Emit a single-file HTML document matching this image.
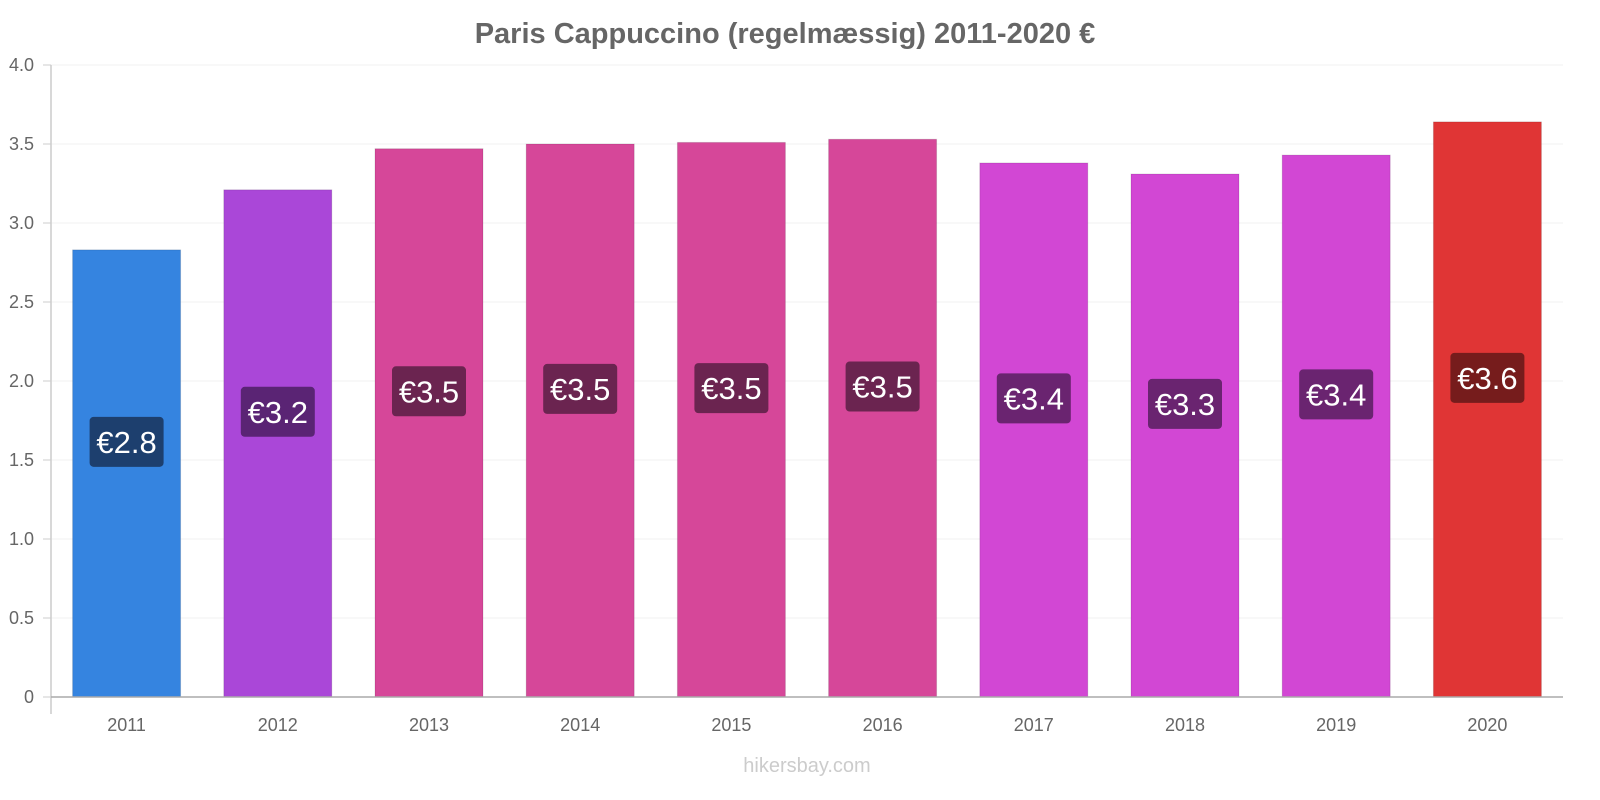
<!DOCTYPE html>
<html><head><meta charset="utf-8"><style>
html,body{margin:0;padding:0;background:#fff;font-family:"Liberation Sans",sans-serif;width:1600px;height:800px;overflow:hidden;}
svg{display:block;}
svg text{font-family:"Liberation Sans",sans-serif;}
</style></head><body>
<svg id="chart" width="1600" height="800" xmlns="http://www.w3.org/2000/svg">
<text x="785" y="43" text-anchor="middle" font-size="29" font-weight="bold" fill="#666">Paris Cappuccino (regelmæssig) 2011-2020 €</text>
<g id="grid"></g><g id="bars"></g><g id="labels"></g><g id="axes"></g>
<text x="807" y="772" text-anchor="middle" font-size="20" fill="#ccc">hikersbay.com</text>
</svg>
<script>
const categories=["2011","2012","2013","2014","2015","2016","2017","2018","2019","2020"];
const values=[2.83,3.21,3.47,3.50,3.51,3.53,3.38,3.31,3.43,3.64];
const valueLabels=["€2.8","€3.2","€3.5","€3.5","€3.5","€3.5","€3.4","€3.3","€3.4","€3.6"];
const yTicks=[0,0.5,1.0,1.5,2.0,2.5,3.0,3.5,4.0];
const yTickLabels=["0","0.5","1.0","1.5","2.0","2.5","3.0","3.5","4.0"];
const barColors=["#3584e0","#aa47d8","#d64799","#d64799","#d64799","#d64799","#d247d4","#d247d4","#d247d4","#e03535"];
const labelColors=["#1d3f6e","#5a2474","#6b2450","#6b2450","#6b2450","#6b2450","#6a2470","#6a2470","#6a2470","#761c1c"];
const NS="http://www.w3.org/2000/svg";
const x0=51,x1=1563,y0=697,yTop=65,yMax=4;
const band=(x1-x0)/categories.length;
const xC=i=>x0+band*(i+0.5);
const yS=v=>y0-(v/yMax)*(y0-yTop);
function mk(t,a,p){const e=document.createElementNS(NS,t);for(const k in a)e.setAttribute(k,a[k]);p.appendChild(e);return e;}
const grid=document.getElementById('grid'),bars=document.getElementById('bars'),labels=document.getElementById('labels'),axes=document.getElementById('axes');
yTicks.forEach((t,i)=>{
  if(t>0){const g=mk('line',{x1:x0,x2:x1,y1:yS(t),y2:yS(t),stroke:'#f2f2f2','stroke-width':1},grid);
  
  }
  const tk=mk('line',{x1:x0-8,x2:x0,y1:yS(t),y2:yS(t),stroke:'#ccc'},axes);
  
  
  const tl=mk('text',{x:34,y:yS(t)+6,'text-anchor':'end','font-size':18,fill:'#666'},axes);
  tl.textContent=yTickLabels[i];
  
  
});
const bw=108;
categories.forEach((c,i)=>{
  const v=values[i];
  const r=mk('rect',{x:xC(i)-bw/2,y:yS(v),width:bw,height:y0-yS(v),fill:barColors[i],stroke:'rgba(0,0,0,0.12)'},bars);
  
  
  const ly=yS(v/2+0.2);
  const lb=mk('rect',{x:xC(i)-37,y:ly-25,width:74,height:50,rx:4,fill:labelColors[i]},labels);
  
  
  const lt=mk('text',{x:xC(i),y:ly+11,'text-anchor':'middle','font-size':31,fill:'#fff'},labels);
  lt.textContent=valueLabels[i];
  
  
  const xl=mk('text',{x:xC(i),y:731,'text-anchor':'middle','font-size':18,fill:'#666'},axes);
  xl.textContent=c;
  
  
});
const ya=mk('line',{x1:x0,x2:x0,y1:yTop,y2:714,stroke:'#ccc','stroke-width':1.5},axes);


const xa=mk('line',{x1:x0,x2:x1,y1:y0,y2:y0,stroke:'#aaa','stroke-width':1.5},axes);


</script>
</body></html>
